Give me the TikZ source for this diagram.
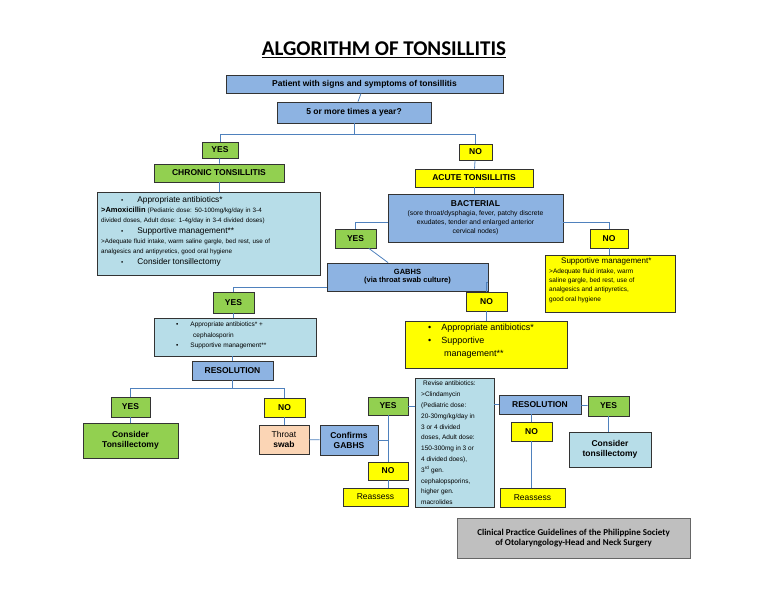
\documentclass[tikz,border=0pt]{standalone}
\usepackage{fontspec}
\setmainfont{Liberation Sans}
\newfontfamily\titlefont{Carlito}
\definecolor{cblue}{RGB}{141,179,226}
\definecolor{clight}{RGB}{183,221,232}
\definecolor{cgreen}{RGB}{146,208,80}
\definecolor{cyel}{RGB}{255,255,0}
\definecolor{csalm}{RGB}{251,213,181}
\definecolor{cline}{RGB}{79,129,189}
\definecolor{cgray}{RGB}{191,191,191}
\tikzset{
 bx/.style={draw=black!80,line width=0.8pt,inner sep=1pt,align=center,font=\fontsize{8.5}{10}\selectfont\bfseries},
 bl/.style={bx,fill=cblue},
 lb/.style={bx,fill=clight},
 gr/.style={bx,fill=cgreen},
 ye/.style={bx,fill=cyel},
 cn/.style={draw=cline,line width=0.8pt},
}
\newcommand{\bbox}[5]{\node[#1,minimum width=#4-#2,minimum height=#5-#3] at ({(#2+#4)/2},{(#3+#5)/2})}
\begin{document}
\begin{tikzpicture}[x=1pt,y=-1pt]
\useasboundingbox (0,0) rectangle (768,594);
\node[font=\titlefont\fontsize{21}{24}\selectfont\bfseries] (title) at (384,50) {\underline{ALGORITHM OF TONSILLITIS}};
\bbox{bl}{226}{75}{503}{93} (pat) {Patient with signs and symptoms of tonsillitis};
\bbox{bl}{277}{102}{431}{123} (five) {5 or more times a year?};
\bbox{gr}{202}{142}{238}{158} (yes1) {YES};
\bbox{ye}{459}{144}{492}{160} (no1) {NO};
\bbox{gr}{154}{164}{284}{182} (chr) {CHRONIC TONSILLITIS};
\bbox{ye}{415}{169}{533}{187} (acu) {ACUTE TONSILLITIS};
\bbox{lb}{97}{192}{320}{275} (cbox) {};
\node[anchor=north west,align=left,text width=218pt,font=\fontsize{6.3}{10.3}\selectfont,inner sep=0pt] at (101,196) {%
\hspace*{20pt}\textbullet\hspace{14pt}{\fontsize{8.3}{10}\selectfont Appropriate antibiotics*}\\
{\bfseries\fontsize{7.5}{9}\selectfont >Amoxicillin} (Pediatric dose: 50-100mg/kg/day in 3-4\\ divided doses, Adult dose: 1-4g/day in 3-4 divided doses)\\
\hspace*{20pt}\textbullet\hspace{14pt}{\fontsize{8.3}{10}\selectfont Supportive management**}\\
>Adequate fluid intake, warm saline gargle, bed rest, use of\\ analgesics and antipyretics, good oral hygiene\\
\hspace*{20pt}\textbullet\hspace{14pt}{\fontsize{8.3}{10}\selectfont Consider tonsillectomy}};
\bbox{bl}{388}{194}{563}{242} (bac) {BACTERIAL\\[-1pt]{\mdseries\fontsize{6.8}{10}\selectfont (sore throat/dysphagia, fever, patchy discrete}\\[-1pt]{\mdseries\fontsize{6.8}{10}\selectfont exudates, tender and enlarged anterior}\\[-1pt]{\mdseries\fontsize{6.8}{10}\selectfont cervical nodes)}};
\bbox{gr}{335}{229}{376}{248} (yes2) {YES};
\bbox{ye}{590}{229}{628}{248} (no2) {NO};
\bbox{ye}{545}{255}{675}{312} (sup) {};
\node[anchor=north west,align=left,font=\fontsize{6.5}{9.3}\selectfont,inner sep=0pt] at (549,258) {%
\hspace*{12pt}{\fontsize{8}{10}\selectfont Supportive management*}\\
>Adequate fluid intake, warm\\ saline gargle, bed rest, use of\\ analgesics and antipyretics,\\ good oral hygiene};
\bbox{bl}{327}{263}{488}{291} (gab) {{\fontsize{7.5}{9}\selectfont GABHS}\\[-2pt]{\fontsize{7.5}{9}\selectfont (via throat swab culture)}};
\bbox{gr}{213}{292}{254}{313} (yes3) {YES};
\bbox{ye}{466}{292}{507}{311} (no3) {NO};
\bbox{lb}{154}{318}{316}{356} (abx) {};
\node[anchor=north west,align=left,font=\fontsize{6.5}{10.5}\selectfont,inner sep=0pt] at (176,322) {%
\textbullet\hspace{12pt}Appropriate antibiotics* +\\ \hspace*{17pt}cephalosporin\\ \textbullet\hspace{12pt}Supportive management**};
\bbox{ye}{405}{321}{567}{368} (yabx) {};
\node[anchor=north west,align=left,font=\fontsize{9}{13}\selectfont,inner sep=0pt] at (428,324) {%
\textbullet\hspace{10pt}Appropriate antibiotics*\\ \textbullet\hspace{10pt}Supportive\\ \hspace*{16pt}management**};
\bbox{bl}{192}{361}{273}{380} (res1) {RESOLUTION};
\bbox{gr}{111}{397}{150}{417} (yes4) {YES};
\bbox{ye}{264}{398}{305}{417} (no4) {NO};
\bbox{gr}{83}{423}{178}{458} (cons1) {Consider\\Tonsillectomy};
\bbox{bx,fill=csalm}{259}{425}{309}{454} (swab) {\mdseries Throat\\swab};
\bbox{bl}{320}{425}{378}{455} (conf) {Confirms\\GABHS};
\bbox{gr}{368}{397}{408}{415} (yes5) {YES};
\bbox{ye}{368}{462}{408}{480} (no5) {NO};
\bbox{ye}{343}{488}{408}{506} (rea1) {\mdseries Reassess};
\bbox{lb}{415}{378}{494}{507} (rev) {};
\node[anchor=north west,align=left,font=\fontsize{6.5}{10.8}\selectfont,inner sep=0pt] at (421,381) {%
\hspace*{2pt}Revise antibiotics:\\ >Clindamycin\\ (Pediatric dose:\\ 20-30mg/kg/day in\\ 3 or 4 divided\\ doses, Adult dose:\\ 150-300mg in 3 or\\ 4 divided does),\\ 3\textsuperscript{rd} gen.\\ cephalopsporins,\\ higher gen.\\ macrolides};
\bbox{bl}{499}{395}{581}{414} (res2) {RESOLUTION};
\bbox{gr}{588}{396}{629}{416} (yes6) {YES};
\bbox{ye}{511}{422}{552}{441} (no6) {NO};
\bbox{ye}{500}{488}{565}{507} (rea2) {\mdseries Reassess};
\bbox{lb}{569}{432}{651}{467} (cons2) {Consider\\tonsillectomy};
\bbox{bx,fill=cgray,draw=black!60}{457}{518}{690}{558} (foot) {\titlefont\fontsize{9}{13}\selectfont Clinical Practice Guidelines of the Philippine Society\\\titlefont\fontsize{9}{13}\selectfont of Otolaryngology-Head and Neck Surgery};
% connectors
\draw[cn] (pat) -- (five);
\draw[cn] (five.south) -- ++(0,11) -| (yes1.north);
\draw[cn] (five.south) ++(0,11) -| (no1.north);
\draw[cn] (yes1) -- (chr);
\draw[cn] (chr) -- (cbox.north -| chr);
\draw[cn] (no1) -- (acu);
\draw[cn] (acu) -- (bac.north -| acu);
\draw[cn] (bac.west |- 0,222) -| (yes2.north);
\draw[cn] (bac.east |- 0,222) -| (no2.north);
\draw[cn] (no2) -- (sup.north -| no2);
\draw[cn] (yes2) -- (gab);
\draw[cn] (gab.west |- 0,287) -| (yes3.north);
\draw[cn] (gab.east |- 0,282) -| (no3.north);
\draw[cn] (yes3) -- (abx.north -| yes3);
\draw[cn] (no3) -- (yabx.north -| no3);
\draw[cn] (abx.south -| res1) -- (res1);
\draw[cn] (res1.south) -- ++(0,8) -| (yes4.north);
\draw[cn] (res1.south) ++(0,8) -| (no4.north);
\draw[cn] (yes4) -- (cons1.north -| yes4);
\draw[cn] (no4) -- (swab.north -| no4);
\draw[cn] (swab) -- (conf);
\draw[cn] (yes5) -- (no5);
\draw[cn] (conf.east) -- (conf.east -| yes5);
\draw[cn] (no5) -- (rea1.north -| no5);
\draw[cn] (yes5.east) -- (rev.west |- yes5.east);
\draw[cn] (rev.east |- res2.west) -- (res2.west);
\draw[cn] (res2) -- (yes6);
\draw[cn] (yes6) -- (cons2.north -| yes6);
\draw[cn] (res2.south -| no6) -- (no6);
\draw[cn] (no6) -- (rea2.north -| no6);
\end{tikzpicture}
\end{document}
